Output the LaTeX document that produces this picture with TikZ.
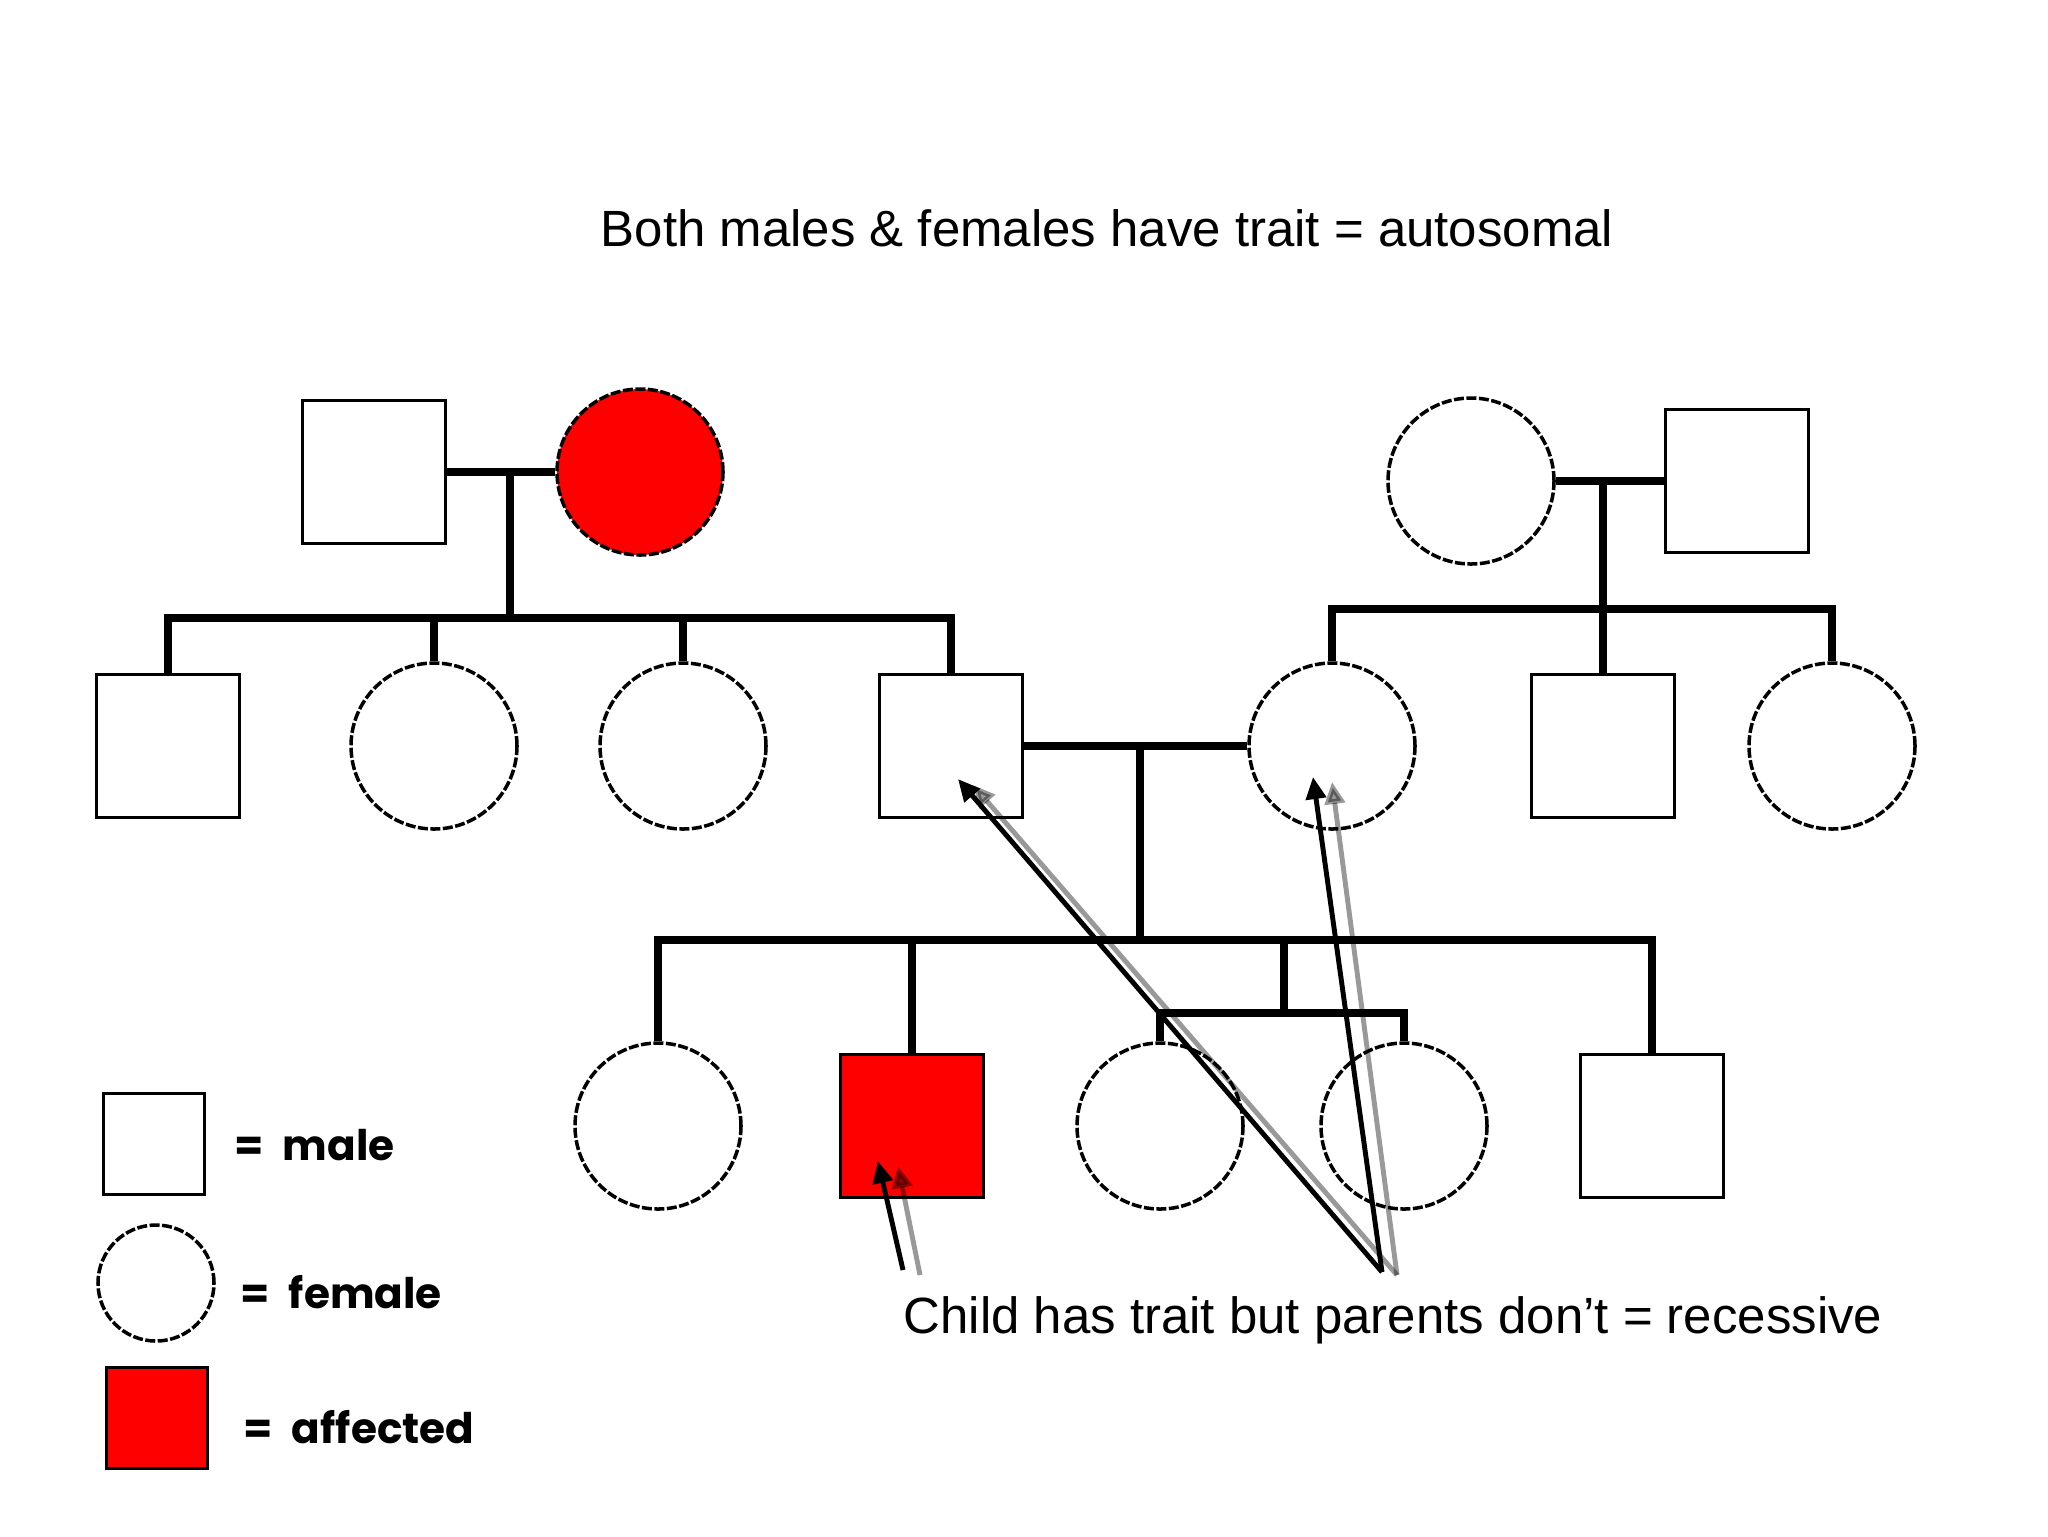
\documentclass[tikz,border=0pt]{standalone}
\usepackage{fontspec}
\setmainfont{Liberation Sans}
\newfontfamily\legendfont{Poppins}
\usetikzlibrary{arrows.meta}

\begin{document}
\begin{tikzpicture}[x=0.1mm,y=-0.1mm,
      font=\fontsize{14.5}{17}\selectfont,
      male/.style={draw,line width=1pt,minimum size=1.43cm,inner sep=0pt,fill=white},
      maleaff/.style={male,fill=red},
      female/.style={draw,circle,line width=1pt,dash pattern=on 1mm off 0.25mm,minimum size=1.66cm,inner sep=0pt,fill=white},
      femaff/.style={female,fill=red},
      link/.style={line width=2.3pt},
      arr/.style={-{Triangle[length=2.2mm,width=2mm]},line width=1.4pt},
      arrg/.style={arr,opacity=0.4},
      key/.style={font=\legendfont\bfseries\fontsize{12}{14}\selectfont,anchor=base west,inner sep=0pt}]
    \useasboundingbox (0,0) rectangle (2048,1536);
    % title
    \node[anchor=base] (title) at (1107,246) {Both males \& females have trait = autosomal};
    % generation I
    \node[male] (I1) at (374,472) {};
    \node[femaff] (I2) at (640,472) {};
    \node[female] (I3) at (1471,481) {};
    \node[male] (I4) at (1737,481) {};
    % generation II
    \foreach \n/\s/\x in {II1/male/168, II2/female/434, II3/female/683, II4/male/951,
                          II5/female/1332, II6/male/1603, II7/female/1832} {
      \node[\s] (\n) at (\x,746) {};
    }
    % generation III
    \foreach \n/\s/\x in {III1/female/658, III2/maleaff/912, III3/female/1160,
                          III4/female/1404, III5/male/1652} {
      \node[\s] (\n) at (\x,1126) {};
    }
    % left family
    \draw[link] (I1) -- (I2);
    \coordinate (j1) at (510,472);
    \coordinate (s1) at (510,618);
    \draw[link] (j1) -- (s1);
    \draw[link] (II1) |- (s1) -| (II4);
    \foreach \n in {II2,II3} \draw[link] (\n) -- (\n |- s1);
    % right family
    \draw[link] (I3) -- (I4);
    \coordinate (j2) at (1603,481);
    \coordinate (s2) at (1603,609);
    \draw[link] (j2) -- (s2);
    \draw[link] (II5) |- (s2) -| (II7);
    \draw[link] (II6) -- (s2);
    % II4 x II5 and their children
    \draw[link] (II4) -- (II5);
    \coordinate (j3) at (1140,746);
    \coordinate (s3) at (1140,940);
    \draw[link] (j3) -- (s3);
    \draw[link] (III1) |- (s3) -| (III5);
    \draw[link] (III2) -- (III2 |- s3);
    % twins
    \coordinate (t0) at (1284,940);
    \coordinate (t1) at (1284,1013);
    \draw[link] (t0) -- (t1);
    \draw[link] (III3) |- (t1) -| (III4);
    % note and arrows
    \node[anchor=base] (note) at (1393,1333) {Child has trait but parents don’t = recessive};
    \coordinate (src) at (1382,1272);
    \coordinate (srcg) at (1397,1275);
    \coordinate (src2) at (903,1270);
    \coordinate (src2g) at (920,1275);
    \coordinate (tipA) at ([shift={(7,33)}]II4.center);
    \coordinate (tipAg) at ([shift={(22,39)}]II4.center);
    \coordinate (tipB) at ([shift={(-19,31)}]II5.center);
    \coordinate (tipBg) at ([shift={(0,36)}]II5.center);
    \coordinate (tipC) at ([shift={(-34,35)}]III2.center);
    \coordinate (tipCg) at ([shift={(-14,40)}]III2.center);
    \draw[arrg] (srcg) -- (tipAg);
    \draw[arrg] (srcg) -- (tipBg);
    \draw[arrg] (src2g) -- (tipCg);
    \draw[arr] (src) -- (tipA);
    \draw[arr] (src) -- (tipB);
    \draw[arr] (src2) -- (tipC);
    % legend
    \node[male,minimum size=1.01cm] (kmale) at (154,1144) {};
    \node[female,minimum size=1.16cm] (kfemale) at (156,1283) {};
    \node[maleaff,minimum size=1.01cm] (kaff) at (157,1418) {};
    \node[key] (tmale) at (234,1160) {=\hspace{0.45em}male};
    \node[key] (tfemale) at (240,1308) {=\hspace{0.45em}female};
    \node[key] (taff) at (243,1443) {=\hspace{0.45em}affected};
  \end{tikzpicture}
\end{document}
